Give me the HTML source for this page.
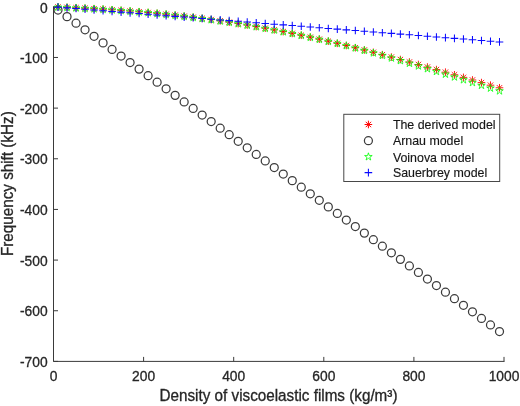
<!DOCTYPE html><html><head><meta charset="utf-8"><title>Frequency shift vs density</title><style>html,body{margin:0;padding:0;background:#fff}body{width:520px;height:406px;overflow:hidden}</style></head><body><svg width="520" height="406" viewBox="0 0 520 406" style="display:block">
<rect width="520" height="406" fill="#fff"/>
<g stroke="#3a3a3a" stroke-width="1" fill="none" shape-rendering="auto">
<path d="M53.50 6.30V361.40H504.50"/>
<path d="M53.50 361.40v-4.5"/>
<path d="M143.60 361.40v-4.5"/>
<path d="M233.70 361.40v-4.5"/>
<path d="M323.80 361.40v-4.5"/>
<path d="M413.90 361.40v-4.5"/>
<path d="M504.00 361.40v-4.5"/>
<path d="M53.50 6.80h4.5"/>
<path d="M53.50 57.46h4.5"/>
<path d="M53.50 108.11h4.5"/>
<path d="M53.50 158.77h4.5"/>
<path d="M53.50 209.43h4.5"/>
<path d="M53.50 260.09h4.5"/>
<path d="M53.50 310.74h4.5"/>
<path d="M53.50 361.40h4.5"/>
</g>
<g font-family="Liberation Sans, Arial, sans-serif" font-size="13.8" fill="#262626" stroke="#262626" stroke-width="0.3">
<text transform="translate(53.50,381.3) scale(1,1.04)" text-anchor="middle">0</text>
<text transform="translate(143.60,381.3) scale(1,1.04)" text-anchor="middle">200</text>
<text transform="translate(233.70,381.3) scale(1,1.04)" text-anchor="middle">400</text>
<text transform="translate(323.80,381.3) scale(1,1.04)" text-anchor="middle">600</text>
<text transform="translate(413.90,381.3) scale(1,1.04)" text-anchor="middle">800</text>
<text transform="translate(504.00,381.3) scale(1,1.04)" text-anchor="middle">1000</text>
<text transform="translate(47.6,12.50) scale(1,1.04)" text-anchor="end">0</text>
<text transform="translate(47.6,63.16) scale(1,1.04)" text-anchor="end">-100</text>
<text transform="translate(47.6,113.81) scale(1,1.04)" text-anchor="end">-200</text>
<text transform="translate(47.6,164.47) scale(1,1.04)" text-anchor="end">-300</text>
<text transform="translate(47.6,215.13) scale(1,1.04)" text-anchor="end">-400</text>
<text transform="translate(47.6,265.79) scale(1,1.04)" text-anchor="end">-500</text>
<text transform="translate(47.6,316.44) scale(1,1.04)" text-anchor="end">-600</text>
<text transform="translate(47.6,367.10) scale(1,1.04)" text-anchor="end">-700</text>
</g>
<g font-family="Liberation Sans, Arial, sans-serif" font-size="15.25" fill="#262626" stroke="#262626" stroke-width="0.3">
<text transform="translate(278.5,400.9) scale(1,1.04)" text-anchor="middle">Density of viscoelastic films (kg/m³)</text>
<text transform="translate(12.5,183.7) rotate(-90) scale(1,1.04)" text-anchor="middle">Frequency shift (kHz)</text>
</g>
<path fill="none" stroke="#ff0000" stroke-width="0.9" d="M54.21 6.98h7.60M58.01 3.18v7.60M55.32 4.29l5.37 5.37M55.32 9.67l5.37 -5.37M63.22 7.36h7.60M67.02 3.56v7.60M64.33 4.67l5.37 5.37M64.33 10.04l5.37 -5.37M72.23 7.77h7.60M76.03 3.97v7.60M73.34 5.08l5.37 5.37M73.34 10.45l5.37 -5.37M81.23 8.21h7.60M85.03 4.41v7.60M82.35 5.52l5.37 5.37M82.35 10.89l5.37 -5.37M90.25 8.69h7.60M94.05 4.89v7.60M91.36 6.00l5.37 5.37M91.36 11.37l5.37 -5.37M99.26 9.21h7.60M103.06 5.41v7.60M100.37 6.52l5.37 5.37M100.37 11.89l5.37 -5.37M108.27 9.77h7.60M112.06 5.97v7.60M109.38 7.08l5.37 5.37M109.38 12.46l5.37 -5.37M117.28 10.38h7.60M121.08 6.58v7.60M118.39 7.69l5.37 5.37M118.39 13.07l5.37 -5.37M126.28 11.04h7.60M130.08 7.24v7.60M127.40 8.35l5.37 5.37M127.40 13.73l5.37 -5.37M135.29 11.75h7.60M139.09 7.95v7.60M136.41 9.06l5.37 5.37M136.41 14.44l5.37 -5.37M144.31 12.52h7.60M148.11 8.72v7.60M145.42 9.83l5.37 5.37M145.42 15.21l5.37 -5.37M153.31 13.34h7.60M157.12 9.54v7.60M154.43 10.65l5.37 5.37M154.43 16.03l5.37 -5.37M162.32 14.22h7.60M166.12 10.42v7.60M163.44 11.54l5.37 5.37M163.44 16.91l5.37 -5.37M171.33 15.17h7.60M175.13 11.37v7.60M172.45 12.48l5.37 5.37M172.45 17.85l5.37 -5.37M180.34 16.17h7.60M184.15 12.37v7.60M181.46 13.49l5.37 5.37M181.46 18.86l5.37 -5.37M189.35 17.24h7.60M193.16 13.44v7.60M190.47 14.56l5.37 5.37M190.47 19.93l5.37 -5.37M198.36 18.38h7.60M202.16 14.58v7.60M199.48 15.69l5.37 5.37M199.48 21.06l5.37 -5.37M207.38 19.58h7.60M211.18 15.78v7.60M208.49 16.89l5.37 5.37M208.49 22.26l5.37 -5.37M216.38 20.84h7.60M220.19 17.04v7.60M217.50 18.16l5.37 5.37M217.50 23.53l5.37 -5.37M225.39 22.18h7.60M229.19 18.38v7.60M226.51 19.49l5.37 5.37M226.51 24.86l5.37 -5.37M234.41 23.58h7.60M238.21 19.78v7.60M235.52 20.89l5.37 5.37M235.52 26.26l5.37 -5.37M243.41 25.05h7.60M247.22 21.25v7.60M244.53 22.36l5.37 5.37M244.53 27.73l5.37 -5.37M252.43 26.58h7.60M256.23 22.78v7.60M253.54 23.90l5.37 5.37M253.54 29.27l5.37 -5.37M261.44 28.19h7.60M265.24 24.39v7.60M262.55 25.50l5.37 5.37M262.55 30.87l5.37 -5.37M270.44 29.86h7.60M274.25 26.06v7.60M271.56 27.17l5.37 5.37M271.56 32.54l5.37 -5.37M279.45 31.59h7.60M283.25 27.79v7.60M280.57 28.91l5.37 5.37M280.57 34.28l5.37 -5.37M288.46 33.39h7.60M292.26 29.59v7.60M289.58 30.71l5.37 5.37M289.58 36.08l5.37 -5.37M297.47 35.26h7.60M301.27 31.46v7.60M298.59 32.57l5.37 5.37M298.59 37.95l5.37 -5.37M306.49 37.19h7.60M310.29 33.39v7.60M307.60 34.50l5.37 5.37M307.60 39.88l5.37 -5.37M315.50 39.18h7.60M319.30 35.38v7.60M316.61 36.49l5.37 5.37M316.61 41.87l5.37 -5.37M324.50 41.23h7.60M328.31 37.43v7.60M325.62 38.54l5.37 5.37M325.62 43.92l5.37 -5.37M333.51 43.34h7.60M337.31 39.54v7.60M334.63 40.65l5.37 5.37M334.63 46.02l5.37 -5.37M342.52 45.50h7.60M346.32 41.70v7.60M343.64 42.81l5.37 5.37M343.64 48.19l5.37 -5.37M351.53 47.72h7.60M355.33 43.92v7.60M352.65 45.03l5.37 5.37M352.65 50.41l5.37 -5.37M360.55 49.99h7.60M364.35 46.19v7.60M361.66 47.30l5.37 5.37M361.66 52.67l5.37 -5.37M369.56 52.30h7.60M373.36 48.50v7.60M370.67 49.62l5.37 5.37M370.67 54.99l5.37 -5.37M378.56 54.66h7.60M382.37 50.86v7.60M379.68 51.98l5.37 5.37M379.68 57.35l5.37 -5.37M387.57 57.07h7.60M391.38 53.27v7.60M388.69 54.38l5.37 5.37M388.69 59.76l5.37 -5.37M396.58 59.51h7.60M400.38 55.71v7.60M397.70 56.82l5.37 5.37M397.70 62.20l5.37 -5.37M405.59 61.99h7.60M409.39 58.19v7.60M406.71 59.30l5.37 5.37M406.71 64.68l5.37 -5.37M414.60 64.50h7.60M418.40 60.70v7.60M415.72 61.81l5.37 5.37M415.72 67.18l5.37 -5.37M423.62 67.03h7.60M427.42 63.23v7.60M424.73 64.35l5.37 5.37M424.73 69.72l5.37 -5.37M432.62 69.59h7.60M436.43 65.79v7.60M433.74 66.91l5.37 5.37M433.74 72.28l5.37 -5.37M441.63 72.17h7.60M445.44 68.37v7.60M442.75 69.49l5.37 5.37M442.75 74.86l5.37 -5.37M450.64 74.77h7.60M454.44 70.97v7.60M451.76 72.08l5.37 5.37M451.76 77.45l5.37 -5.37M459.65 77.37h7.60M463.45 73.57v7.60M460.77 74.68l5.37 5.37M460.77 80.06l5.37 -5.37M468.66 79.98h7.60M472.46 76.18v7.60M469.78 77.29l5.37 5.37M469.78 82.66l5.37 -5.37M477.68 82.59h7.60M481.48 78.79v7.60M478.79 79.90l5.37 5.37M478.79 85.27l5.37 -5.37M486.69 85.19h7.60M490.49 81.39v7.60M487.80 82.50l5.37 5.37M487.80 87.87l5.37 -5.37M495.69 87.78h7.60M499.50 83.98v7.60M496.81 85.09l5.37 5.37M496.81 90.46l5.37 -5.37"/>
<g fill="none" stroke="#3c3c3c" stroke-width="1.25">
<circle cx="58.01" cy="10.08" r="4.0"/>
<circle cx="67.02" cy="16.64" r="4.0"/>
<circle cx="76.03" cy="23.20" r="4.0"/>
<circle cx="85.03" cy="29.76" r="4.0"/>
<circle cx="94.05" cy="36.32" r="4.0"/>
<circle cx="103.06" cy="42.88" r="4.0"/>
<circle cx="112.06" cy="49.44" r="4.0"/>
<circle cx="121.08" cy="56.00" r="4.0"/>
<circle cx="130.08" cy="62.56" r="4.0"/>
<circle cx="139.09" cy="69.12" r="4.0"/>
<circle cx="148.11" cy="75.68" r="4.0"/>
<circle cx="157.12" cy="82.24" r="4.0"/>
<circle cx="166.12" cy="88.80" r="4.0"/>
<circle cx="175.13" cy="95.36" r="4.0"/>
<circle cx="184.15" cy="101.92" r="4.0"/>
<circle cx="193.16" cy="108.48" r="4.0"/>
<circle cx="202.16" cy="115.04" r="4.0"/>
<circle cx="211.18" cy="121.60" r="4.0"/>
<circle cx="220.19" cy="128.16" r="4.0"/>
<circle cx="229.19" cy="134.72" r="4.0"/>
<circle cx="238.21" cy="141.28" r="4.0"/>
<circle cx="247.22" cy="147.84" r="4.0"/>
<circle cx="256.23" cy="154.40" r="4.0"/>
<circle cx="265.24" cy="160.96" r="4.0"/>
<circle cx="274.25" cy="167.52" r="4.0"/>
<circle cx="283.25" cy="174.08" r="4.0"/>
<circle cx="292.26" cy="180.64" r="4.0"/>
<circle cx="301.27" cy="187.20" r="4.0"/>
<circle cx="310.29" cy="193.76" r="4.0"/>
<circle cx="319.30" cy="200.32" r="4.0"/>
<circle cx="328.31" cy="206.88" r="4.0"/>
<circle cx="337.31" cy="213.44" r="4.0"/>
<circle cx="346.32" cy="220.00" r="4.0"/>
<circle cx="355.33" cy="226.56" r="4.0"/>
<circle cx="364.35" cy="233.12" r="4.0"/>
<circle cx="373.36" cy="239.68" r="4.0"/>
<circle cx="382.37" cy="246.24" r="4.0"/>
<circle cx="391.38" cy="252.80" r="4.0"/>
<circle cx="400.38" cy="259.36" r="4.0"/>
<circle cx="409.39" cy="265.92" r="4.0"/>
<circle cx="418.40" cy="272.48" r="4.0"/>
<circle cx="427.42" cy="279.04" r="4.0"/>
<circle cx="436.43" cy="285.60" r="4.0"/>
<circle cx="445.44" cy="292.16" r="4.0"/>
<circle cx="454.44" cy="298.72" r="4.0"/>
<circle cx="463.45" cy="305.28" r="4.0"/>
<circle cx="472.46" cy="311.84" r="4.0"/>
<circle cx="481.48" cy="318.40" r="4.0"/>
<circle cx="490.49" cy="324.96" r="4.0"/>
<circle cx="499.50" cy="331.52" r="4.0"/>
</g>
<path fill="none" stroke="#00ff00" stroke-width="0.9" stroke-opacity="0.85" d="M58.01,3.28L58.90,6.04L61.81,6.04L59.46,7.75L60.36,10.52L58.01,8.81L55.65,10.52L56.55,7.75L54.20,6.04L57.11,6.04ZM67.02,3.66L67.91,6.42L70.82,6.42L68.47,8.13L69.37,10.89L67.02,9.19L64.66,10.89L65.56,8.13L63.21,6.42L66.12,6.42ZM76.03,4.07L76.92,6.83L79.83,6.83L77.48,8.54L78.38,11.30L76.03,9.59L73.67,11.30L74.57,8.54L72.22,6.83L75.13,6.83ZM85.03,4.51L85.93,7.27L88.84,7.27L86.49,8.98L87.39,11.74L85.03,10.04L82.68,11.74L83.58,8.98L81.23,7.27L84.14,7.27ZM94.05,4.99L94.94,7.75L97.85,7.75L95.50,9.46L96.40,12.22L94.05,10.51L91.69,12.22L92.59,9.46L90.24,7.75L93.15,7.75ZM103.06,5.51L103.95,8.27L106.86,8.27L104.51,9.98L105.41,12.74L103.06,11.03L100.70,12.74L101.60,9.98L99.25,8.27L102.16,8.27ZM112.06,6.07L112.96,8.83L115.87,8.83L113.52,10.54L114.42,13.31L112.06,11.60L109.71,13.31L110.61,10.54L108.26,8.83L111.17,8.83ZM121.08,6.68L121.97,9.44L124.88,9.44L122.53,11.15L123.43,13.92L121.08,12.21L118.72,13.92L119.62,11.15L117.27,9.44L120.18,9.44ZM130.08,7.34L130.98,10.10L133.89,10.10L131.54,11.81L132.44,14.58L130.08,12.87L127.73,14.58L128.63,11.81L126.28,10.10L129.19,10.10ZM139.09,8.05L139.99,10.82L142.90,10.82L140.55,12.52L141.45,15.29L139.09,13.58L136.74,15.29L137.64,12.52L135.29,10.82L138.20,10.82ZM148.11,8.82L149.00,11.58L151.91,11.58L149.56,13.29L150.46,16.05L148.11,14.35L145.75,16.05L146.65,13.29L144.30,11.58L147.21,11.58ZM157.12,9.64L158.01,12.41L160.92,12.41L158.57,14.11L159.47,16.88L157.12,15.17L154.76,16.88L155.66,14.11L153.31,12.41L156.22,12.41ZM166.12,10.52L167.02,13.29L169.93,13.29L167.58,15.00L168.48,17.76L166.12,16.05L163.77,17.76L164.67,15.00L162.32,13.29L165.23,13.29ZM175.13,11.47L176.03,14.23L178.94,14.23L176.59,15.94L177.49,18.70L175.13,17.00L172.78,18.70L173.68,15.94L171.33,14.23L174.24,14.23ZM184.15,12.47L185.04,15.24L187.95,15.24L185.60,16.95L186.50,19.71L184.15,18.00L181.79,19.71L182.69,16.95L180.34,15.24L183.25,15.24ZM193.16,13.54L194.05,16.31L196.96,16.31L194.61,18.01L195.51,20.78L193.16,19.07L190.80,20.78L191.70,18.01L189.35,16.31L192.26,16.31ZM202.16,14.68L203.06,17.44L205.97,17.44L203.62,19.15L204.52,21.91L202.16,20.20L199.81,21.91L200.71,19.15L198.36,17.44L201.27,17.44ZM211.18,15.88L212.07,18.64L214.98,18.64L212.63,20.35L213.53,23.11L211.18,21.40L208.82,23.11L209.72,20.35L207.37,18.64L210.28,18.64ZM220.19,17.14L221.08,19.91L223.99,19.91L221.64,21.61L222.54,24.38L220.19,22.67L217.83,24.38L218.73,21.61L216.38,19.91L219.29,19.91ZM229.19,18.48L230.09,21.24L233.00,21.24L230.65,22.95L231.55,25.71L229.19,24.00L226.84,25.71L227.74,22.95L225.39,21.24L228.30,21.24ZM238.21,19.88L239.10,22.64L242.01,22.64L239.66,24.35L240.56,27.11L238.21,25.41L235.85,27.11L236.75,24.35L234.40,22.64L237.31,22.64ZM247.22,21.35L248.11,24.11L251.02,24.11L248.67,25.82L249.57,28.58L247.22,26.87L244.86,28.58L245.76,25.82L243.41,24.11L246.32,24.11ZM256.23,22.88L257.12,25.65L260.03,25.65L257.68,27.35L258.58,30.12L256.23,28.41L253.87,30.12L254.77,27.35L252.42,25.65L255.33,25.65ZM265.24,24.49L266.13,27.25L269.04,27.25L266.69,28.96L267.59,31.72L265.24,30.01L262.88,31.72L263.78,28.96L261.43,27.25L264.34,27.25ZM274.25,26.16L275.14,28.92L278.05,28.92L275.70,30.63L276.60,33.39L274.25,31.68L271.89,33.39L272.79,30.63L270.44,28.92L273.35,28.92ZM283.25,27.89L284.15,30.66L287.06,30.66L284.71,32.36L285.61,35.13L283.25,33.42L280.90,35.13L281.80,32.36L279.45,30.66L282.36,30.66ZM292.26,29.69L293.16,32.46L296.07,32.46L293.72,34.17L294.62,36.93L292.26,35.22L289.91,36.93L290.81,34.17L288.46,32.46L291.37,32.46ZM301.27,31.56L302.17,34.32L305.08,34.32L302.73,36.03L303.63,38.80L301.27,37.09L298.92,38.80L299.82,36.03L297.47,34.32L300.38,34.32ZM310.29,33.49L311.18,36.25L314.09,36.25L311.74,37.96L312.64,40.73L310.29,39.02L307.93,40.73L308.83,37.96L306.48,36.25L309.39,36.25ZM319.30,35.48L320.19,38.24L323.10,38.24L320.75,39.95L321.65,42.72L319.30,41.01L316.94,42.72L317.84,39.95L315.49,38.24L318.40,38.24ZM328.31,37.53L329.20,40.29L332.11,40.29L329.76,42.00L330.66,44.77L328.31,43.06L325.95,44.77L326.85,42.00L324.50,40.29L327.41,40.29ZM337.31,39.64L338.21,42.40L341.12,42.40L338.77,44.11L339.67,46.87L337.31,45.17L334.96,46.87L335.86,44.11L333.51,42.40L336.42,42.40ZM346.32,41.80L347.22,44.57L350.13,44.57L347.78,46.27L348.68,49.04L346.32,47.33L343.97,49.04L344.87,46.27L342.52,44.57L345.43,44.57ZM355.33,44.06L356.23,46.82L359.14,46.82L356.79,48.53L357.69,51.29L355.33,49.58L352.98,51.29L353.88,48.53L351.53,46.82L354.44,46.82ZM364.35,46.50L365.24,49.27L368.15,49.27L365.80,50.98L366.70,53.74L364.35,52.03L361.99,53.74L362.89,50.98L360.54,49.27L363.45,49.27ZM373.36,49.00L374.25,51.76L377.16,51.76L374.81,53.47L375.71,56.24L373.36,54.53L371.00,56.24L371.90,53.47L369.55,51.76L372.46,51.76ZM382.37,51.54L383.26,54.31L386.17,54.31L383.82,56.01L384.72,58.78L382.37,57.07L380.01,58.78L380.91,56.01L378.56,54.31L381.47,54.31ZM391.38,54.13L392.27,56.89L395.18,56.89L392.83,58.60L393.73,61.36L391.38,59.65L389.02,61.36L389.92,58.60L387.57,56.89L390.48,56.89ZM400.38,56.75L401.28,59.51L404.19,59.51L401.84,61.22L402.74,63.98L400.38,62.28L398.03,63.98L398.93,61.22L396.58,59.51L399.49,59.51ZM409.39,59.41L410.29,62.17L413.20,62.17L410.85,63.88L411.75,66.64L409.39,64.93L407.04,66.64L407.94,63.88L405.59,62.17L408.50,62.17ZM418.40,62.10L419.30,64.86L422.21,64.86L419.86,66.57L420.76,69.33L418.40,67.62L416.05,69.33L416.95,66.57L414.60,64.86L417.51,64.86ZM427.42,64.81L428.31,67.58L431.22,67.58L428.87,69.28L429.77,72.05L427.42,70.34L425.06,72.05L425.96,69.28L423.61,67.58L426.52,67.58ZM436.43,67.55L437.32,70.32L440.23,70.32L437.88,72.02L438.78,74.79L436.43,73.08L434.07,74.79L434.97,72.02L432.62,70.32L435.53,70.32ZM445.44,70.31L446.33,73.08L449.24,73.08L446.89,74.78L447.79,77.55L445.44,75.84L443.08,77.55L443.98,74.78L441.63,73.08L444.54,73.08ZM454.44,73.09L455.34,75.85L458.25,75.85L455.90,77.56L456.80,80.32L454.44,78.61L452.09,80.32L452.99,77.56L450.64,75.85L453.55,75.85ZM463.45,75.87L464.35,78.63L467.26,78.63L464.91,80.34L465.81,83.11L463.45,81.40L461.10,83.11L462.00,80.34L459.65,78.63L462.56,78.63ZM472.46,78.66L473.36,81.42L476.27,81.42L473.92,83.13L474.82,85.89L472.46,84.19L470.11,85.89L471.01,83.13L468.66,81.42L471.57,81.42ZM481.48,81.44L482.37,84.21L485.28,84.21L482.93,85.92L483.83,88.68L481.48,86.97L479.12,88.68L480.02,85.92L477.67,84.21L480.58,84.21ZM490.49,84.23L491.38,86.99L494.29,86.99L491.94,88.70L492.84,91.46L490.49,89.75L488.13,91.46L489.03,88.70L486.68,86.99L489.59,86.99ZM499.50,87.00L500.39,89.76L503.30,89.76L500.95,91.47L501.85,94.23L499.50,92.52L497.14,94.23L498.04,91.47L495.69,89.76L498.60,89.76Z"/>
<path fill="none" stroke="#0a0aff" stroke-width="1.05" d="M54.21 7.15h7.60M58.01 3.35v7.60M63.22 7.86h7.60M67.02 4.06v7.60M72.23 8.57h7.60M76.03 4.77v7.60M81.23 9.28h7.60M85.03 5.48v7.60M90.25 9.99h7.60M94.05 6.19v7.60M99.26 10.70h7.60M103.06 6.90v7.60M108.27 11.41h7.60M112.06 7.61v7.60M117.28 12.12h7.60M121.08 8.32v7.60M126.28 12.83h7.60M130.08 9.03v7.60M135.29 13.54h7.60M139.09 9.74v7.60M144.31 14.25h7.60M148.11 10.45v7.60M153.31 14.95h7.60M157.12 11.15v7.60M162.32 15.66h7.60M166.12 11.86v7.60M171.33 16.37h7.60M175.13 12.57v7.60M180.34 17.08h7.60M184.15 13.28v7.60M189.35 17.79h7.60M193.16 13.99v7.60M198.36 18.50h7.60M202.16 14.70v7.60M207.38 19.21h7.60M211.18 15.41v7.60M216.38 19.92h7.60M220.19 16.12v7.60M225.39 20.63h7.60M229.19 16.83v7.60M234.41 21.34h7.60M238.21 17.54v7.60M243.41 22.05h7.60M247.22 18.25v7.60M252.43 22.75h7.60M256.23 18.95v7.60M261.44 23.46h7.60M265.24 19.66v7.60M270.44 24.17h7.60M274.25 20.37v7.60M279.45 24.88h7.60M283.25 21.08v7.60M288.46 25.59h7.60M292.26 21.79v7.60M297.47 26.30h7.60M301.27 22.50v7.60M306.49 27.01h7.60M310.29 23.21v7.60M315.50 27.72h7.60M319.30 23.92v7.60M324.50 28.43h7.60M328.31 24.63v7.60M333.51 29.14h7.60M337.31 25.34v7.60M342.52 29.85h7.60M346.32 26.05v7.60M351.53 30.55h7.60M355.33 26.75v7.60M360.55 31.26h7.60M364.35 27.46v7.60M369.56 31.97h7.60M373.36 28.17v7.60M378.56 32.68h7.60M382.37 28.88v7.60M387.57 33.39h7.60M391.38 29.59v7.60M396.58 34.10h7.60M400.38 30.30v7.60M405.59 34.81h7.60M409.39 31.01v7.60M414.60 35.52h7.60M418.40 31.72v7.60M423.62 36.23h7.60M427.42 32.43v7.60M432.62 36.94h7.60M436.43 33.14v7.60M441.63 37.65h7.60M445.44 33.85v7.60M450.64 38.35h7.60M454.44 34.55v7.60M459.65 39.06h7.60M463.45 35.26v7.60M468.66 39.77h7.60M472.46 35.97v7.60M477.68 40.48h7.60M481.48 36.68v7.60M486.69 41.19h7.60M490.49 37.39v7.60M495.69 41.90h7.60M499.50 38.10v7.60"/>
<rect x="343.8" y="114.3" width="155.9" height="67.2" fill="#fff" stroke="#484848" stroke-width="1"/>
<path fill="none" stroke="#ff0000" stroke-width="1" d="M364.60 124.50h7.60M368.40 120.70v7.60M365.71 121.81l5.37 5.37M365.71 127.19l5.37 -5.37"/>
<circle cx="368.4" cy="140.7" r="4.0" fill="none" stroke="#3c3c3c" stroke-width="1.25"/>
<path fill="none" stroke="#00ff00" stroke-width="0.8" d="M368.40,152.80L369.30,155.56L372.20,155.56L369.85,157.27L370.75,160.04L368.40,158.33L366.05,160.04L366.95,157.27L364.60,155.56L367.50,155.56Z"/>
<path fill="none" stroke="#0a0aff" stroke-width="1.05" d="M364.60 172.60h7.60M368.40 168.80v7.60"/>
<g font-family="Liberation Sans, Arial, sans-serif" font-size="12.4" fill="#161616" stroke="#161616" stroke-width="0.15">
<text transform="translate(392.9,129.20) scale(1,1.04)">The derived model</text>
<text transform="translate(392.9,145.40) scale(1,1.04)">Arnau model</text>
<text transform="translate(392.9,161.50) scale(1,1.04)">Voinova model</text>
<text transform="translate(392.9,177.30) scale(1,1.04)">Sauerbrey model</text>
</g>
</svg></body></html>
